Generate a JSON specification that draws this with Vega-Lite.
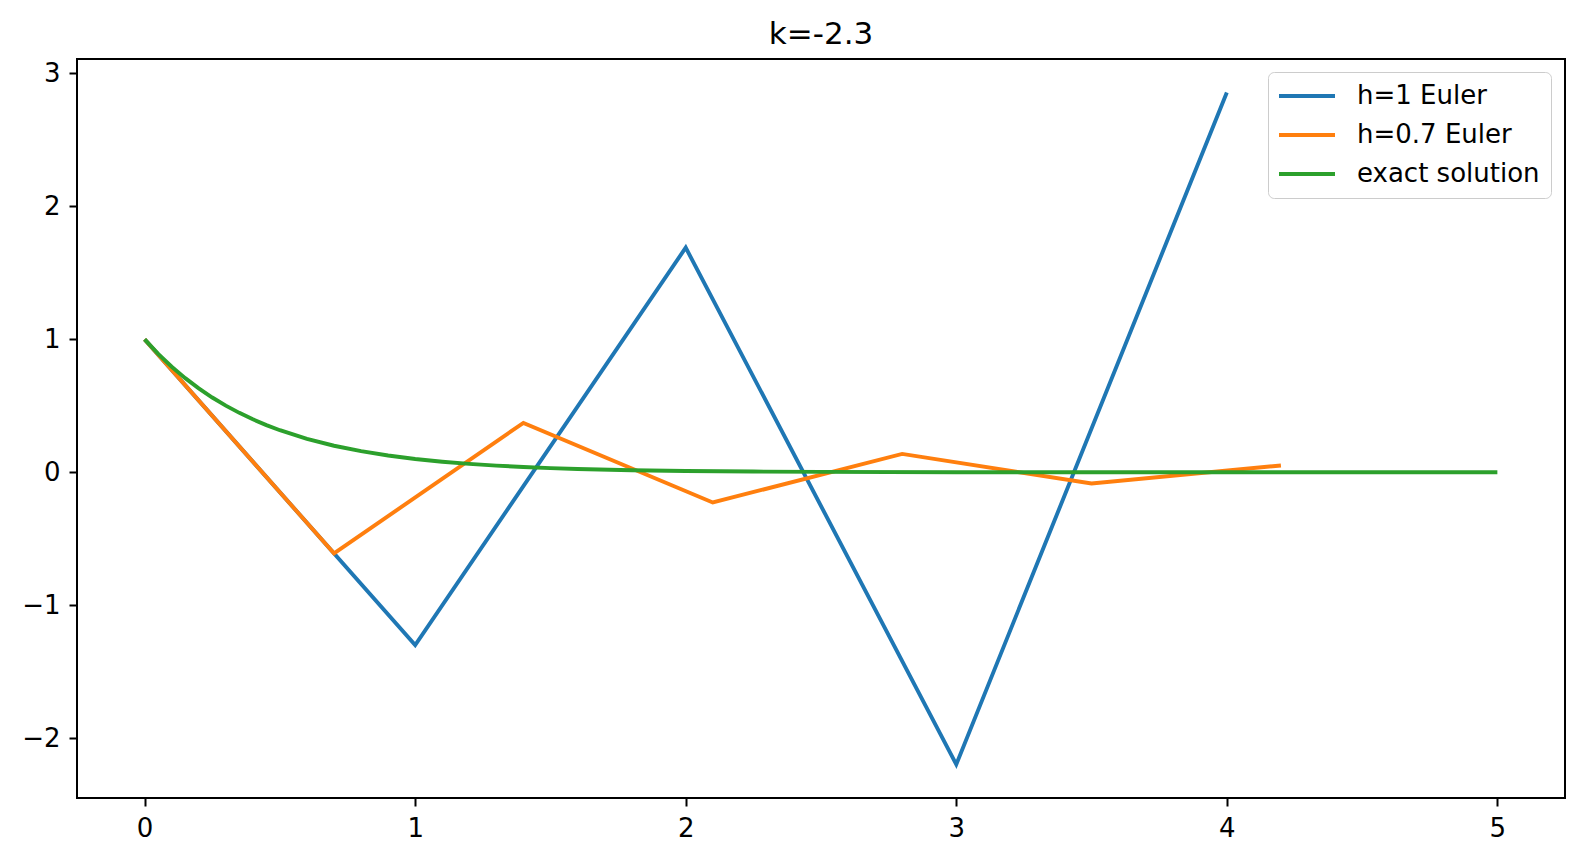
{
  "$schema": "https://vega.github.io/schema/vega-lite/v6.json",
  "width": 1488,
  "height": 739,
  "autosize": {"type": "none"},
  "padding": {"left": 77, "top": 59, "right": 19, "bottom": 64},
  "background": "white",
  "title": {"text": "k=-2.3", "font": "DejaVu Sans", "fontSize": 31, "fontWeight": "normal", "color": "black", "anchor": "middle", "baseline": "bottom", "frame": "group", "offset": 12, "dy": 35},
  "config": {
    "view": {"stroke": "black", "strokeWidth": 2},
    "axis": {"domain": false, "grid": false, "tickColor": "black", "tickWidth": 2, "tickSize": 8, "labelFont": "DejaVu Sans", "labelFontSize": 26, "labelColor": "black", "labelPadding": 9},
    "legend": {"labelFont": "DejaVu Sans", "labelFontSize": 26, "labelColor": "black", "labelLimit": 500}
  },
  "data": {"values": [
    {"series": "h=1 Euler", "x": 0, "y": 1},
    {"series": "h=1 Euler", "x": 1, "y": -1.3},
    {"series": "h=1 Euler", "x": 2, "y": 1.69},
    {"series": "h=1 Euler", "x": 3, "y": -2.197},
    {"series": "h=1 Euler", "x": 4, "y": 2.8561},
    {"series": "h=0.7 Euler", "x": 0, "y": 1},
    {"series": "h=0.7 Euler", "x": 0.7, "y": -0.61},
    {"series": "h=0.7 Euler", "x": 1.4, "y": 0.3721},
    {"series": "h=0.7 Euler", "x": 2.1, "y": -0.22698},
    {"series": "h=0.7 Euler", "x": 2.8, "y": 0.13846},
    {"series": "h=0.7 Euler", "x": 3.5, "y": -0.08446},
    {"series": "h=0.7 Euler", "x": 4.2, "y": 0.05152},
    {"series": "exact solution", "x": 0, "y": 1},
    {"series": "exact solution", "x": 0.05, "y": 0.89137},
    {"series": "exact solution", "x": 0.1, "y": 0.79453},
    {"series": "exact solution", "x": 0.15, "y": 0.70822},
    {"series": "exact solution", "x": 0.2, "y": 0.63128},
    {"series": "exact solution", "x": 0.25, "y": 0.5627},
    {"series": "exact solution", "x": 0.3, "y": 0.50158},
    {"series": "exact solution", "x": 0.35, "y": 0.44709},
    {"series": "exact solution", "x": 0.4, "y": 0.39852},
    {"series": "exact solution", "x": 0.45, "y": 0.35523},
    {"series": "exact solution", "x": 0.5, "y": 0.31664},
    {"series": "exact solution", "x": 0.6, "y": 0.25158},
    {"series": "exact solution", "x": 0.7, "y": 0.19989},
    {"series": "exact solution", "x": 0.8, "y": 0.15882},
    {"series": "exact solution", "x": 0.9, "y": 0.12619},
    {"series": "exact solution", "x": 1.0, "y": 0.10026},
    {"series": "exact solution", "x": 1.1, "y": 0.07966},
    {"series": "exact solution", "x": 1.2, "y": 0.06329},
    {"series": "exact solution", "x": 1.3, "y": 0.05029},
    {"series": "exact solution", "x": 1.4, "y": 0.03996},
    {"series": "exact solution", "x": 1.5, "y": 0.03175},
    {"series": "exact solution", "x": 1.6, "y": 0.02522},
    {"series": "exact solution", "x": 1.8, "y": 0.01592},
    {"series": "exact solution", "x": 2.0, "y": 0.01005},
    {"series": "exact solution", "x": 2.25, "y": 0.00566},
    {"series": "exact solution", "x": 2.5, "y": 0.00318},
    {"series": "exact solution", "x": 3.0, "y": 0.00101},
    {"series": "exact solution", "x": 3.5, "y": 0.00032},
    {"series": "exact solution", "x": 4.0, "y": 0.0001},
    {"series": "exact solution", "x": 5.0, "y": 0.00001}
  ]},
  "encoding": {
    "x": {"field": "x", "type": "quantitative", "scale": {"domain": [-0.25, 5.25], "nice": false, "zero": false}, "axis": {"values": [0, 1, 2, 3, 4, 5], "title": null}},
    "y": {"field": "y", "type": "quantitative", "scale": {"domain": [-2.4497, 3.1088], "nice": false, "zero": false}, "axis": {"values": [-2, -1, 0, 1, 2, 3], "title": null}},
    "color": {"field": "series", "type": "nominal", "scale": {"domain": ["h=1 Euler", "h=0.7 Euler", "exact solution"], "range": ["#1f77b4", "#ff7f0e", "#2ca02c"]},
      "legend": {"title": null, "orient": "none", "legendX": 1191, "legendY": 13, "symbolType": "M-4,0H4", "symbolSize": 196, "symbolStrokeWidth": 4, "symbolOffset": 15, "labelOffset": 37, "padding": 11, "strokeColor": "#cccccc", "fillColor": "white", "cornerRadius": 6, "rowPadding": 13}}
  },
  "layer": [
    {"transform": [{"filter": "datum.series === 'h=1 Euler'"}], "mark": {"type": "line", "strokeWidth": 3.9}},
    {"transform": [{"filter": "datum.series === 'h=0.7 Euler'"}], "mark": {"type": "line", "strokeWidth": 3.9}},
    {"transform": [{"filter": "datum.series === 'exact solution'"}], "mark": {"type": "line", "strokeWidth": 3.9}}
  ]
}
